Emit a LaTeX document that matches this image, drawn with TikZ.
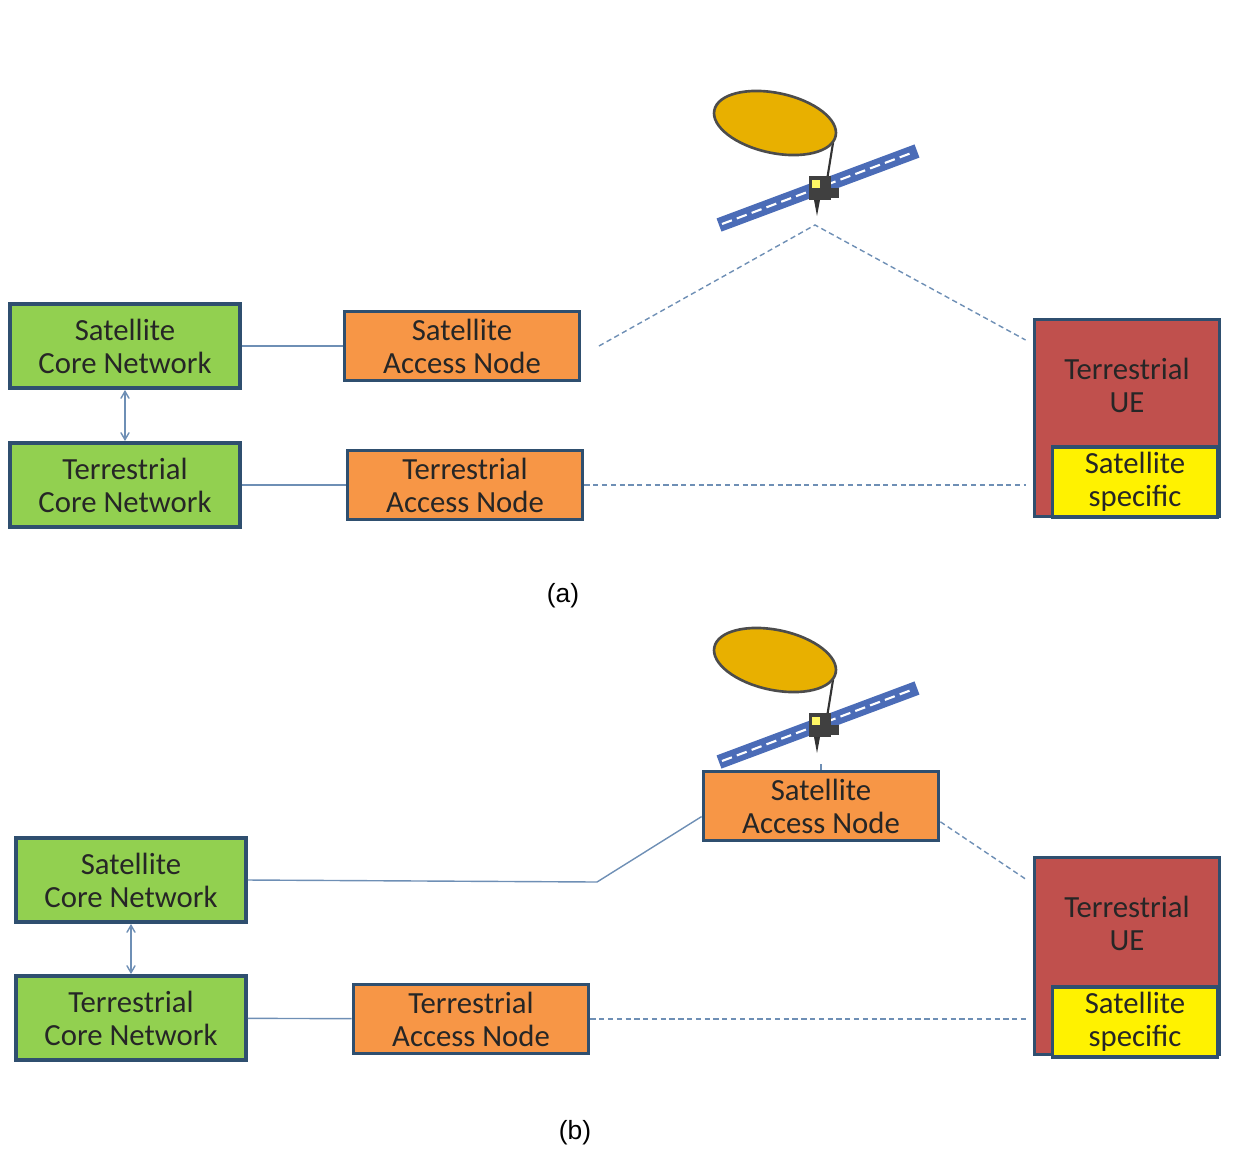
\documentclass[tikz,border=0pt]{standalone}
\usepackage{fontspec}
\setmainfont{Carlito}
\newfontfamily\capfont{Liberation Sans}
\usetikzlibrary{positioning,arrows}
\definecolor{coregreen}{HTML}{92D050}
\definecolor{accorange}{HTML}{F79646}
\definecolor{uered}{HTML}{C0504D}
\definecolor{boxline}{HTML}{2F4F6F}
\definecolor{linkblue}{HTML}{6E8FB5}
\definecolor{dishgold}{HTML}{E8B000}
\definecolor{panelblue}{HTML}{4B6CB7}
\tikzset{
  box/.style={draw=boxline, line width=2.2pt, align=center, inner sep=0pt,
    font=\fontsize{17.5}{18.7}\selectfont, text=black!85},
  core/.style={box, fill=coregreen, minimum width=4.6cm, minimum height=1.68cm},
  access/.style={box, fill=accorange, minimum width=4.7cm, minimum height=1.38cm},
  ue/.style={box, fill=uered, minimum width=3.7cm, minimum height=3.94cm},
  specific/.style={box, fill=yellow, minimum width=3.3cm, minimum height=1.4cm},
  link/.style={linkblue, line width=0.8pt},
  radio/.style={linkblue, line width=0.8pt, densely dashed},
  caption/.style={font=\capfont\fontsize{15}{17}\selectfont},
}
% satellite drawn around its body point
\newcommand{\drawsat}[2]{%
  \begin{scope}[shift={(#1,#2)}]
    \draw[line width=8pt, panelblue] (-98,37) -- (100,-37);
    \draw[white, line width=1.2pt, dash pattern=on 6pt off 3pt] (-95,36) -- (97,-36);
    \draw[black!80, line width=1.2pt] (16,-45) -- (10,-8);
    \draw[fill=dishgold, draw=black!70, line width=1.5pt, rotate around={-12:(-42,-65)}]
      (-42,-65) ellipse (62 and 30);
    \fill[black!75] (-8,-12) rectangle (14,12);
    \fill[yellow!60!white] (-5,-8) rectangle (3,0);
    \fill[black!75] (12,0) rectangle (22,10);
    \fill[black!80] (-3,12) -- (3,12) -- (0,28) -- cycle;
  \end{scope}}
\begin{document}
\begin{tikzpicture}[x=0.02cm, y=-0.02cm]
\useasboundingbox (0,0) rectangle (1233,1174);
% (a)
\drawsat{817}{188}
\coordinate (sata) at (815,225);
\node[core] (scna) at (125,346) {Satellite\\Core Network};
\node[core] (tcna) at (125,485) {Terrestrial\\Core Network};
\node[access] (sana) at (462,346) {Satellite\\Access Node};
\node[access] (tana) at (465,485) {Terrestrial\\Access Node};
\node[ue, text depth=1.3cm] (uea) at (1127,418) {Terrestrial\\UE};
\node[specific] (spa) at (1135,482) {Satellite\\specific};
\draw[link, <->, >=angle 60] (scna) -- (tcna);
\draw[link] (scna) -- (sana);
\draw[link] (tcna) -- (tana);
\draw[radio] ([xshift=10pt]sana.east) -- (sata) -- ([xshift=-4pt]uea.north west |- 0,340);
\draw[radio] (tana) -- ([xshift=-4pt]uea.west |- tana);
\node[caption] (capa) at (563,596) {(a)};
% (b)
\drawsat{817}{725}
\node[core] (scnb) at (131,880) {Satellite\\Core Network};
\node[core] (tcnb) at (131,1018) {Terrestrial\\Core Network};
\node[access] (sanb) at (821,806) {Satellite\\Access Node};
\node[access] (tanb) at (471,1019) {Terrestrial\\Access Node};
\node[ue, text depth=1.3cm] (ueb) at (1127,956) {Terrestrial\\UE};
\node[specific] (spb) at (1135,1022) {Satellite\\specific};
\coordinate (bendb) at (597,882);
\draw[link, <->, >=angle 60] (scnb) -- (tcnb);
\draw[link] (scnb.east) -- (bendb) -- ([yshift=-6pt]sanb.west);
\draw[link] (tcnb) -- (tanb);
\draw[radio] (sanb.north) -- ++(0,-8);
\draw[radio] ([yshift=-9pt]sanb.east) -- (1027,880);
\draw[radio] (tanb) -- ([xshift=-4pt]ueb.west |- tanb);
\node[caption] (capb) at (575,1133) {(b)};
\end{tikzpicture}
\end{document}
